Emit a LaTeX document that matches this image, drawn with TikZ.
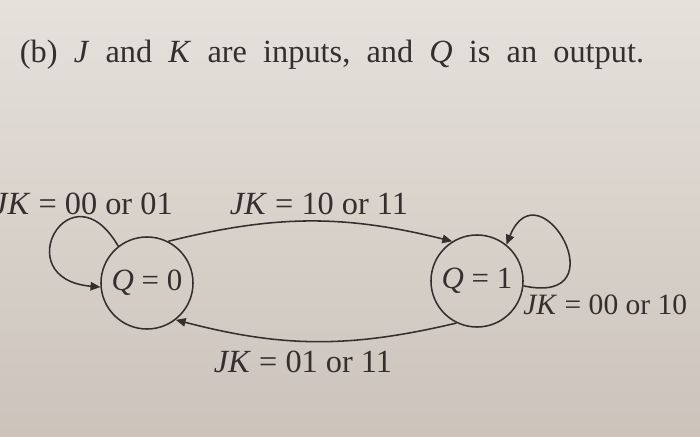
\documentclass[tikz,border=0pt]{standalone}
\usepackage{fontspec}
\setmainfont{Liberation Serif}
\usetikzlibrary{arrows.meta}
\definecolor{ink}{RGB}{52,47,46}
\definecolor{paperhi}{RGB}{229,225,219}
\definecolor{paperlo}{RGB}{204,195,187}

\begin{document}
\begin{tikzpicture}[x=0.025cm,y=0.025cm,
    state/.style={circle,draw=ink,line width=1.1pt,minimum size=2.3cm,inner sep=0pt,text=ink,font=\fontsize{22}{26}\selectfont},
    lbl/.style={text=ink,inner sep=0pt,font=\fontsize{23}{27}\selectfont},
    trans/.style={draw=ink,line width=1.1pt,-{Triangle[length=7pt,width=6pt]}}]
    % paper
    \shade[top color=paperhi,bottom color=paperlo] (0,0) rectangle (700,436);
    \useasboundingbox (0,0) rectangle (700,436);

    % Heading
    \node[lbl,anchor=base] (title) at (332,373) {\spaceskip=.5em\relax (b)\ \textit{J} and \textit{K} are inputs, and \textit{Q} is an output.};

    % States
    \node[state] (q0) at (147,153) {\textit{Q} = 0};
    \node[state] (q1) at (477,155) {\textit{Q} = 1};

    % Transitions between states
    \draw[trans] (q0.63) to[bend left=14] (q1.122);
    \draw[trans] (q1.244) to[bend left=14] (q0.308);

    % Self loops
    \draw[trans] (q0.128) .. controls +(120:95) and +(175:95) .. (q0.185);
    \draw[trans] (q1.-6) .. controls +(-12:100) and +(68:88) .. (q1.51);

    % Transition labels
    \node[lbl,anchor=base east] (stay0) at (173,221) {\textit{JK} = 00 or 01};
    \node[lbl,anchor=base] (set) at (319,221) {\textit{JK} = 10 or 11};
    \node[lbl,anchor=base] (reset) at (303,64) {\textit{JK} = 01 or 11};
    \node[lbl,anchor=base west,font=\fontsize{21}{25}\selectfont] (stay1) at (523,121) {\textit{JK} = 00 or 10};
\end{tikzpicture}
\end{document}
